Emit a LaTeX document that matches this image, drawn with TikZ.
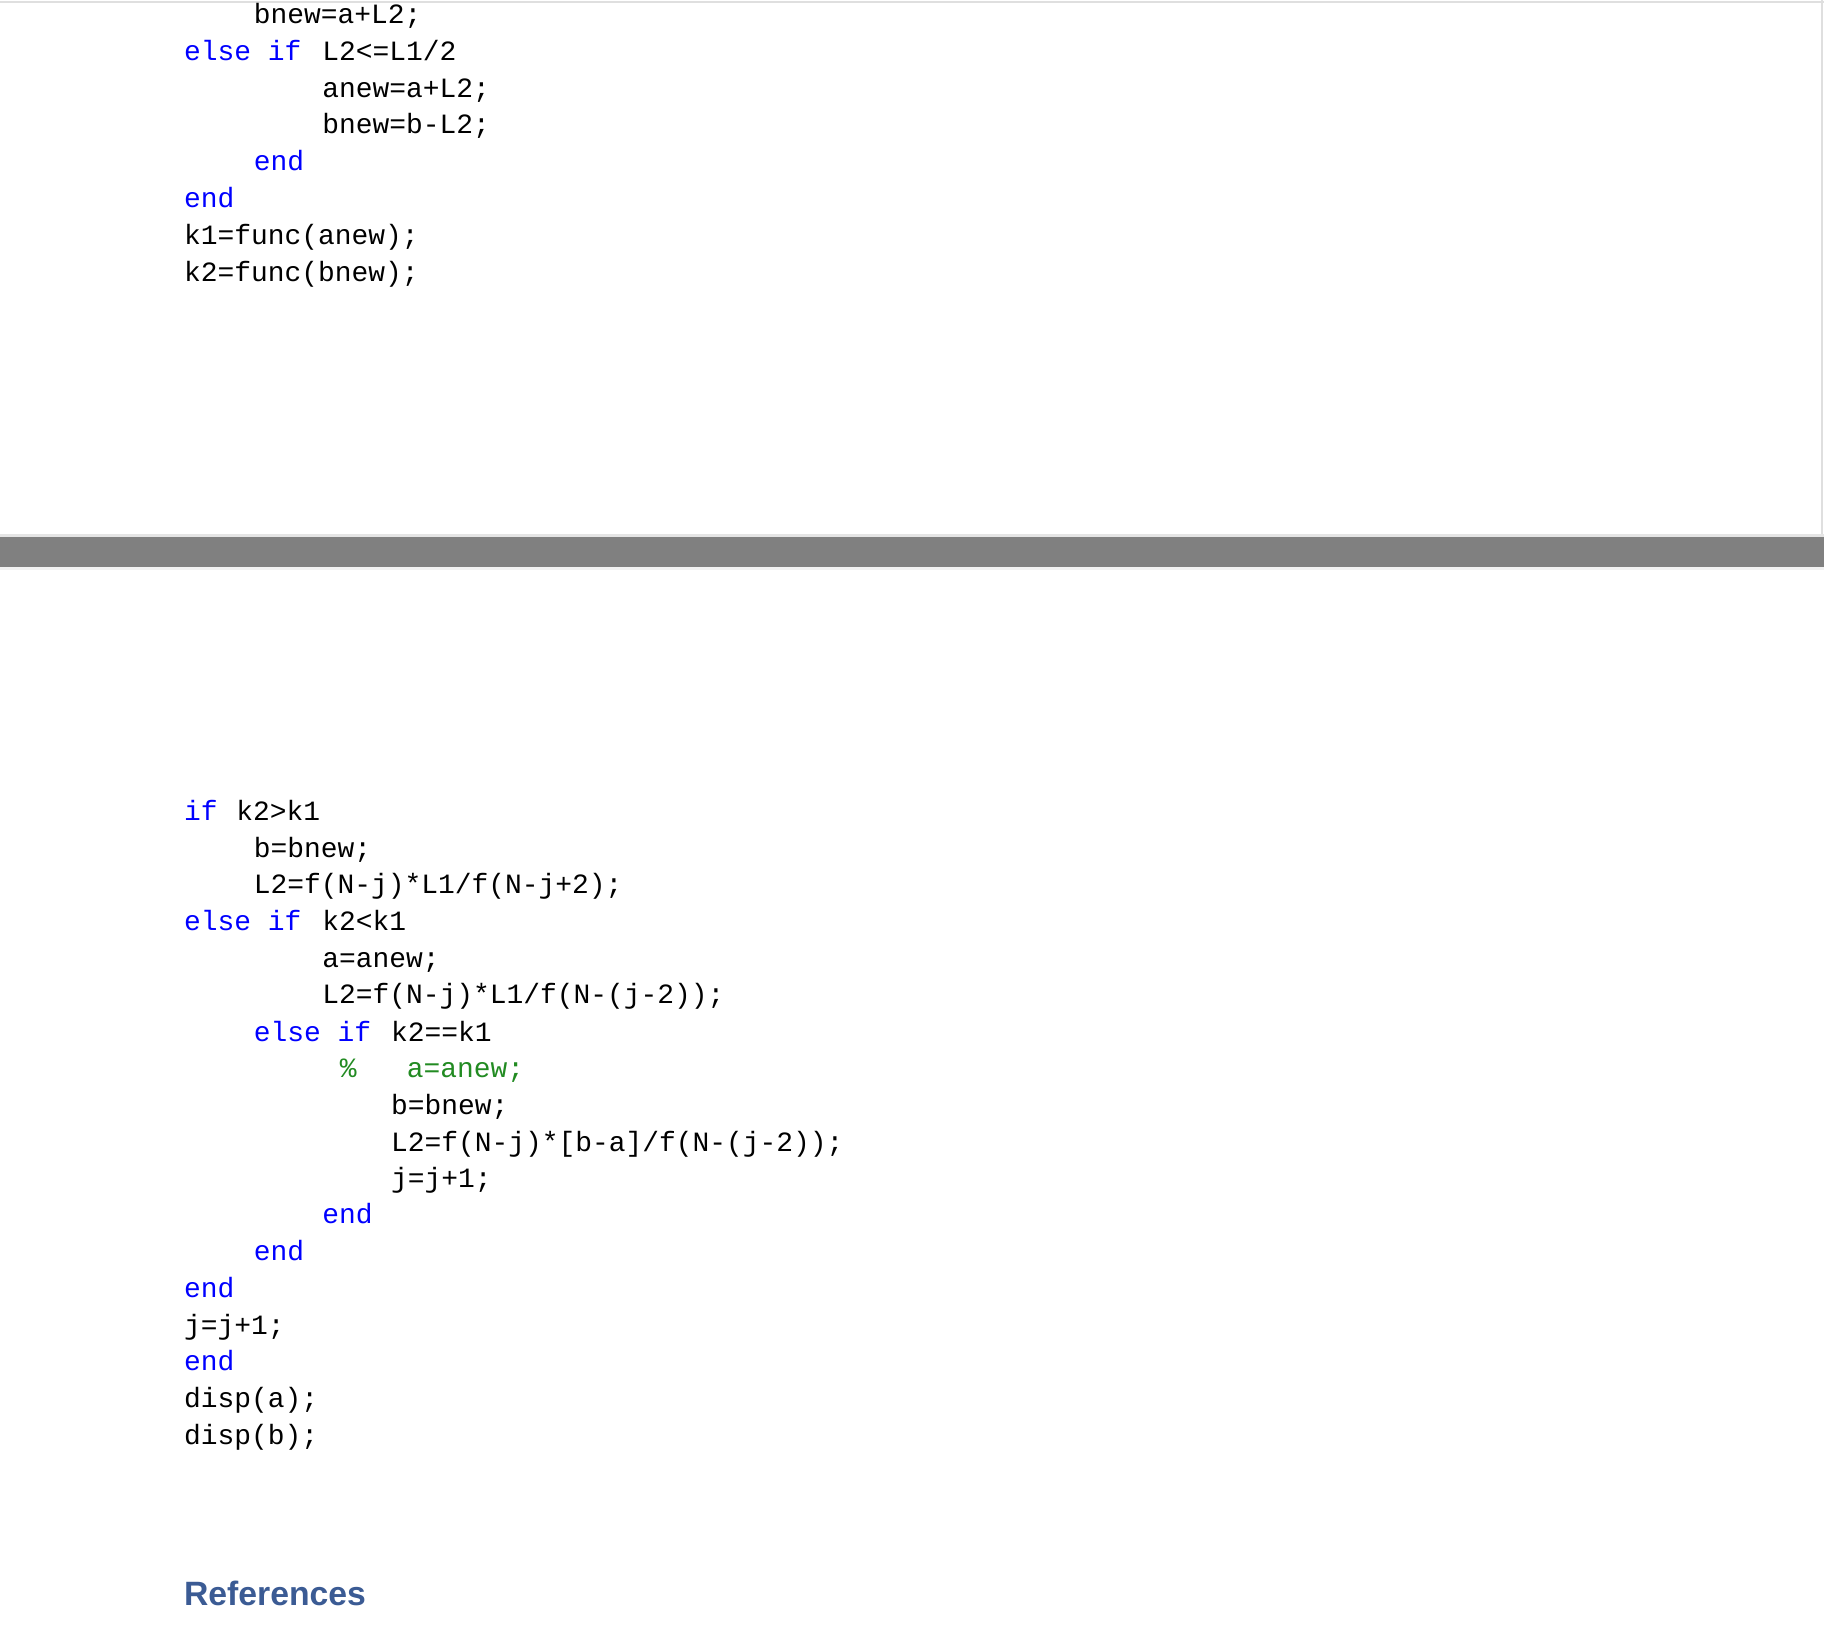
\documentclass[tikz,border=0pt]{standalone}
\usepackage{fontspec}
\setmonofont{Liberation Mono}
\setsansfont{Liberation Sans}
\definecolor{kw}{HTML}{0000FF}
\definecolor{cm}{HTML}{228B22}
\definecolor{refc}{HTML}{3B5B94}
\begin{document}
\begin{tikzpicture}[x=1pt,y=-1pt,
  code/.style={anchor=base west,inner sep=0pt,font=\ttfamily\fontsize{24}{24}\selectfont},
  k/.style={code,text=kw}]
\useasboundingbox (0,0) rectangle (1568,1407);
\fill[white] (0,0) rectangle (1568,1407);
\draw[gray!25,line width=1.5] (0,2) -- (1568,2);
\draw[gray!25,line width=1.5] (1566,0) -- (1566,462);
\fill[gray!20] (0,459) rectangle (1568,463);
\fill[black!50] (0,462) rectangle (1568,487);
\fill[gray!10] (0,487) rectangle (1568,490);
% top block
\node[code] (t1) at (218,20) {bnew=a+L2;};
\node[k] (t2) at (158,52) {else if};
\node[code] (t2b) at (277,52) {L2<=L1/2};
\node[code] (t3) at (277,84) {anew=a+L2;};
\node[code] (t4) at (277,115) {bnew=b-L2;};
\node[k] (t5) at (218,147) {end};
\node[k] (t6) at (158,178) {end};
\node[code] (t7) at (158,210) {k1=func(anew);};
\node[code] (t8) at (158,242) {k2=func(bnew);};
% bottom block
\node[k] (b1) at (158,705) {if};
\node[code] (b1b) at (203,705) {k2>k1};
\node[code] (b2) at (218,737) {b=bnew;};
\node[code] (b3) at (218,768) {L2=f(N-j)*L1/f(N-j+2);};
\node[k] (b4) at (158,800) {else if};
\node[code] (b4b) at (277,800) {k2<k1};
\node[code] (b5) at (277,832) {a=anew;};
\node[code] (b6) at (277,863) {L2=f(N-j)*L1/f(N-(j-2));};
\node[k] (b7) at (218,895) {else if};
\node[code] (b7b) at (336,895) {k2==k1};
\node[code,text=cm] (b8) at (292,926) {\%\ \ \ a=anew;};
\node[code] (b9) at (336,958) {b=bnew;};
\node[code] (b10) at (336,990) {L2=f(N-j)*[b-a]/f(N-(j-2));};
\node[code] (b11) at (336,1021) {j=j+1;};
\node[k] (b12) at (277,1052) {end};
\node[k] (b13) at (218,1084) {end};
\node[k] (b14) at (158,1115) {end};
\node[code] (b15) at (158,1147) {j=j+1;};
\node[k] (b16) at (158,1178) {end};
\node[code] (b17) at (158,1210) {disp(a);};
\node[code] (b18) at (158,1242) {disp(b);};
\node[anchor=base west,inner sep=0pt,text=refc,font=\sffamily\bfseries\fontsize{29}{29}\selectfont] (ref) at (158,1380) {References};
\end{tikzpicture}
\end{document}
